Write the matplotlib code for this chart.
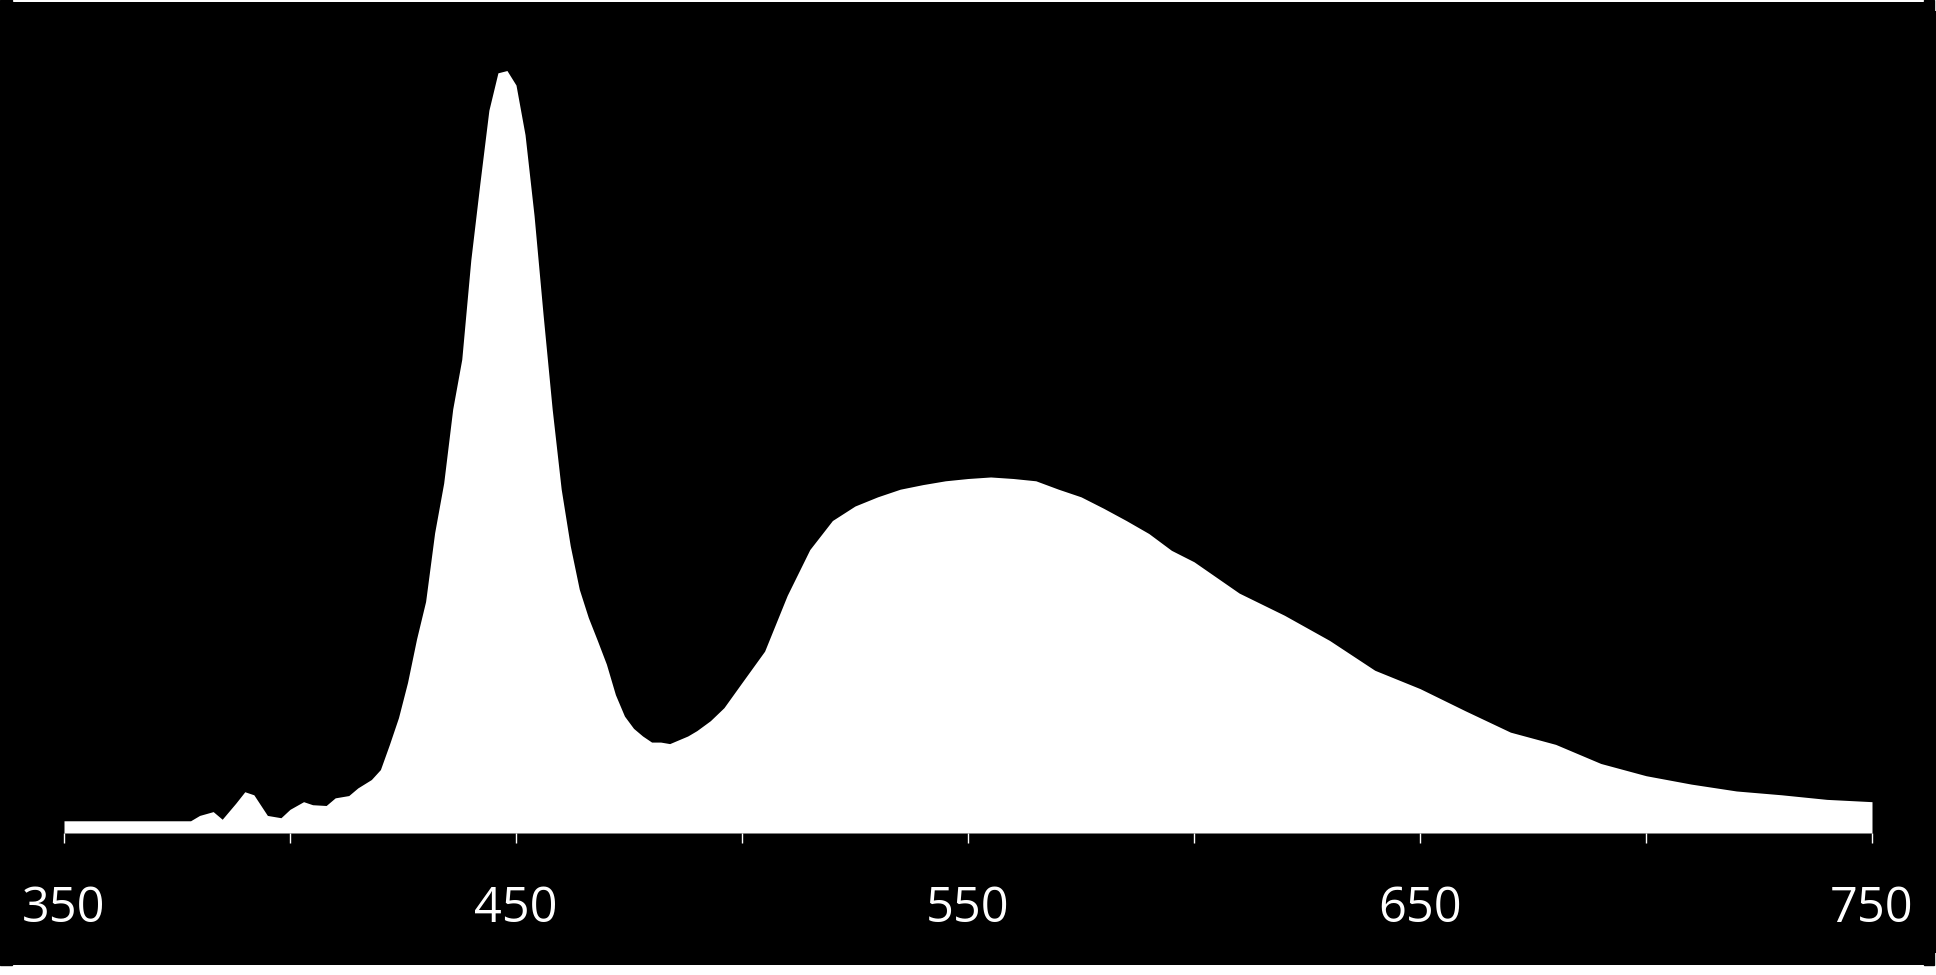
import numpy as np
import matplotlib.pyplot as plt
from matplotlib.colors import LinearSegmentedColormap, to_rgb
from matplotlib.patches import FancyBboxPatch

# LED emission spectrum (relative intensity, peak = 1)
wavelength = [350, 355, 360, 365, 370, 375, 378, 380, 383, 385, 388, 390, 392, 395, 398,
              400, 403, 405, 408, 410, 413, 415, 418, 420, 422, 424, 426, 428, 430, 432,
              434, 436, 438, 440, 442, 444, 446, 448, 450, 452, 454, 456, 458, 460, 462,
              464, 466, 468, 470, 472, 474, 476, 478, 480, 482, 484, 486, 488, 490, 493,
              496, 500, 505, 510, 515, 520, 525, 530, 535, 540, 545, 550, 555, 560, 565,
              570, 575, 580, 585, 590, 595, 600, 610, 620, 630, 640, 650, 660, 670, 680,
              690, 700, 710, 720, 730, 740, 750]
intensity = [.016, .016, .016, .016, .016, .016, .016, .023, .028, .018, .039, .054, .050, .023, .020,
             .031, .041, .037, .036, .046, .049, .059, .070, .083, .116, .151, .197, .254, .303, .393,
             .458, .555, .62, .75, .85, .946, .995, .998, .979, .914, .808, .678, .555, .45, .376,
             .319, .282, .252, .221, .181, .153, .137, .127, .119, .119, .117, .122, .127, .134, .147,
             .164, .197, .238, .311, .371, .409, .428, .44, .45, .456, .461, .464, .466, .464, .461,
             .45, .44, .425, .409, .392, .37, .355, .314, .285, .252, .213, .189, .16, .132, .116,
             .091, .075, .064, .055, .05, .044, .041]

# eye sensitivity curve
eye_wl = [470, 478.5, 489.5, 500.4, 508.7, 516.9, 525.2, 533.4, 544.4, 555.4, 566.3, 577.3,
          585.5, 593.8, 602.0, 610.3, 618.5, 626.7, 630.8, 640, 650]
eye_val = [.08, .132, .19, .304, .453, .621, .738, .821, .904, .928, .904, .821,
           .738, .648, .557, .477, .379, .288, .248, .17, .11]

# background spectrum colour stops (nm, colour)
stop_nm = [335.8, 338.5, 363, 390.6, 405, 418, 449.7, 464.8, 478.5, 495, 514, 530.6, 547,
           560.8, 572, 583, 599, 621, 640, 651, 679, 706, 728, 745, 761, 764.2]
stop_col = ['#000000', '#000000', '#2a0030', '#5b006b', '#580080', '#4a00b0', '#1400d8', '#1050c0',
            '#1280a8', '#1a9a80', '#18a850', '#28a828', '#60b820', '#a8cc10', '#e6e20a', '#f0a010',
            '#f07010', '#f04810', '#ea1010', '#e2000f', '#c00010', '#9a0008', '#600000', '#300000',
            '#0a0000', '#050000']

tick_pos = [350, 400, 450, 500, 550, 600, 650, 700, 750]
tick_lab = ['350', '', '450', '', '550', '', '650', '', '750']

W, H = 1936, 975
px_per_nm = (1872 - 64) / 400
x_lo = 350 - 64 / px_per_nm
x_hi = 750 + (W - 1872) / px_per_nm

fig = plt.figure(figsize=(W / 100, H / 100), dpi=100, facecolor='white')

# background with frame and gradient
bg = fig.add_axes([0, 0, 1, 1])
bg.axis('off')
bg.add_patch(FancyBboxPatch((2, 2), W - 4, 963, boxstyle='round,pad=0,rounding_size=8',
                            facecolor='black', edgecolor='none'))
pos = [min(max((n - x_lo) / (x_hi - x_lo), 0.0), 1.0) for n in stop_nm]
pos[0], pos[-1] = 0.0, 1.0
cmap = LinearSegmentedColormap.from_list('spec', list(zip(pos, [to_rgb(c) for c in stop_col])))
grad = np.linspace(0, 1, 2000)[None, :]
bg.imshow(grad, cmap=cmap, aspect='auto', extent=(0, W, 953, 11), interpolation='bilinear')
bg.add_patch(plt.Rectangle((0, 0), 12, 965, color='black'))
bg.add_patch(plt.Rectangle((W - 12, 0), 10, 965, color='black'))
bg.set_xlim(0, W)
bg.set_ylim(H, 0)

# data axes
ax = fig.add_axes([0, (H - 833) / H, 1, (833 - 11) / H])
ax.patch.set_alpha(0)
ax.set_xlim(x_lo, x_hi)
ax.set_ylim(0, 822 / 764)
ax.plot(eye_wl, eye_val, color='black', lw=11, solid_capstyle='butt', solid_joinstyle='round', zorder=2)
ax.fill_between(wavelength, intensity, 0, color='white', lw=0, zorder=3)
for s in ax.spines.values():
    s.set_visible(False)
ax.set_yticks([])
ax.set_xticks(tick_pos)
ax.set_xticklabels(tick_lab, family='Open Sans', fontsize=35, color='white')
ax.tick_params(axis='x', colors='white', length=7, width=1, pad=30, direction='out')

fig.savefig('out.png', dpi=100, facecolor='white')
